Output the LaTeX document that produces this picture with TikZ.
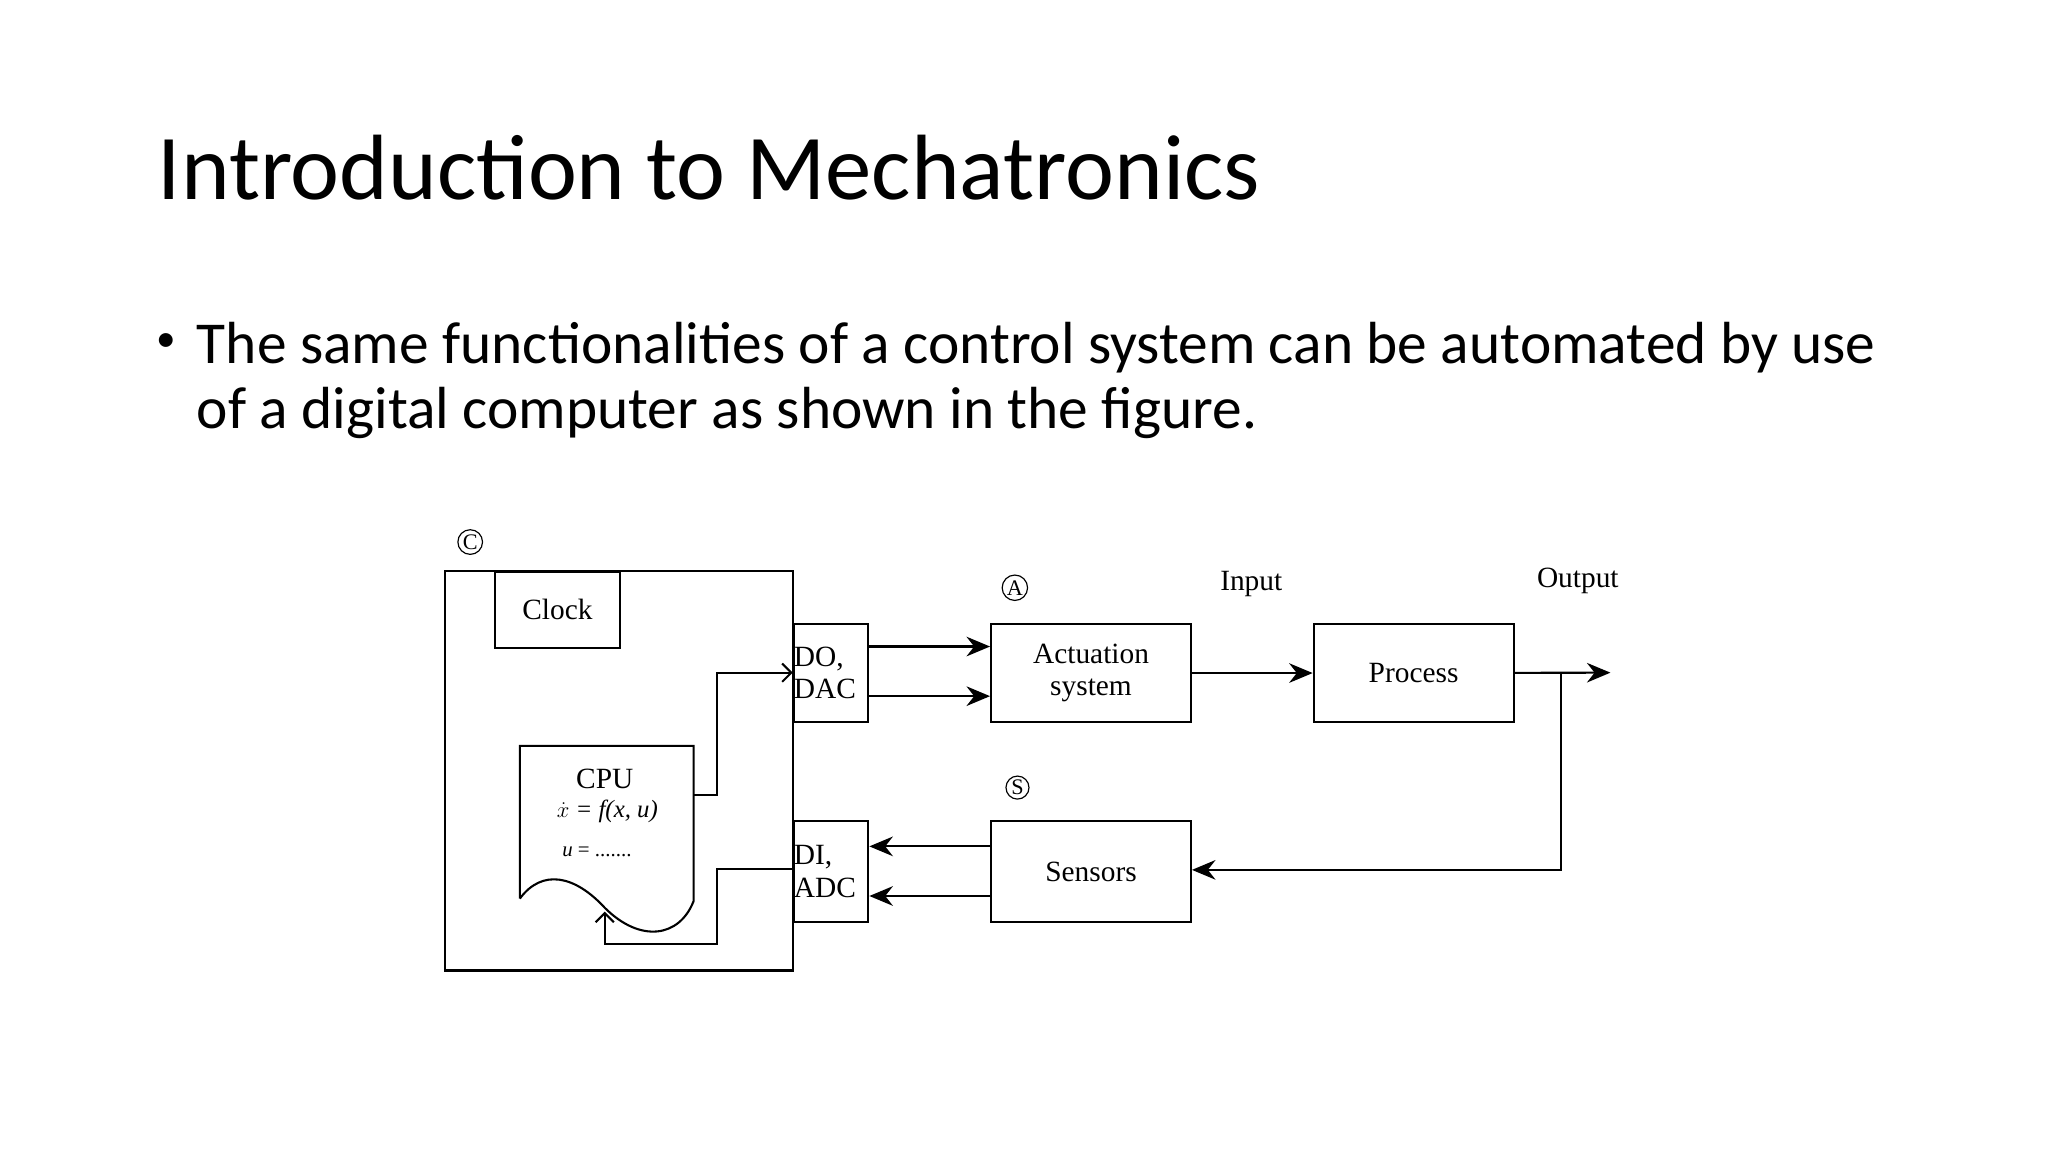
\documentclass[tikz,border=0pt]{standalone}
\usepackage{fontspec}
\setmainfont{Carlito}
\newfontfamily\diag{Liberation Serif}
\usetikzlibrary{arrows.meta}
\begin{document}
\begin{tikzpicture}[x=1pt,y=-1pt,line width=1.6pt,
  blk/.style={draw,line width=1.6pt},
  lbl/.style={font=\diag\fontsize{22.5}{25}\selectfont,align=center,inner sep=0pt},
  circ/.style={circle,draw,line width=0.9pt,inner sep=1pt,font=\diag\fontsize{17}{17}\selectfont},
  fill arrow/.style={-{Stealth[length=18pt,width=15pt]}},
  open arrow/.style={-{Straight Barb[length=7pt,width=14pt]}}]
\useasboundingbox (0,0) rectangle (1568,882);
% slide text
\node[anchor=base west,inner sep=0pt,font=\fontsize{71}{80}\selectfont] (title) at (120,153) {Introduction to Mechatronics};
\node[anchor=center,inner sep=0pt,font=\fontsize{30}{30}\selectfont] (bul) at (127,262) {•};
\node[anchor=base west,inner sep=0pt,align=left,font=\fontsize{45.5}{50}\selectfont] (txt) at (150,328)
  {The same functionalities of a control system can be automated by use\\of a digital computer as shown in the figure.};
% computer
\draw[blk] (341,437) rectangle (607,743);
\node[blk,minimum width=96pt,minimum height=58pt,anchor=north west,lbl] (clock) at (378,437) {Clock};
\draw[blk] (398,688) -- (398,571) -- (531,571) -- (531,690)
  .. controls (520,718) and (490,722) .. (463,695)
  .. controls (440,670) and (415,665) .. (398,688);
\node[lbl] (cpu) at (463,596) {CPU};
\node[lbl,font=\diag\itshape\fontsize{19}{20}\selectfont] (eq1) at (465,621) {$\dot{x}$ = f(x, u)};
\node[lbl,font=\diag\fontsize{16}{16}\selectfont] (eq2) at (457,652) {\textit{u} = .......};
\coordinate (cpuout) at (531,609);
\coordinate (cpuin) at (463,698);
\node[blk,minimum width=57pt,minimum height=75pt,anchor=north west] (do) at (607,477) {};
\node[lbl,anchor=west,align=left] at (do.west) {DO,\\DAC};
\node[blk,minimum width=57pt,minimum height=77pt,anchor=north west] (di) at (607,628) {};
\node[lbl,anchor=west,align=left] at (di.west) {DI,\\ADC};
\node[blk,minimum width=153pt,minimum height=75pt,anchor=north west,lbl] (act) at (758,477) {Actuation\\system};
\node[blk,minimum width=153pt,minimum height=75pt,anchor=north west,lbl] (proc) at (1005,477) {Process};
\node[blk,minimum width=153pt,minimum height=77pt,anchor=north west,lbl] (sen) at (758,628) {Sensors};
\coordinate (out) at (1233,515);
\coordinate (br) at (1195,515);
% labels
\node[circ] (c) at (360,415) {C};
\node[circ] (a) at (777,450) {A};
\node[circ] (s) at (779,603) {S};
\node[lbl] (inp) at (958,447) {Input};
\node[lbl] (outp) at (1208,445) {Output};
% connectors
\draw[open arrow] (cpuout) -- (549,609) -- (549,515) -- (do.west |- 0,515);
\draw[open arrow] (di.west |- 0,665) -- (549,665) -- (549,723) -- (463,723) -- (cpuin);
\draw[fill arrow] (do.east |- 0,495) -- (act.west |- 0,495);
\draw[fill arrow] (do.east |- 0,533) -- (act.west |- 0,533);
\draw[fill arrow] (act) -- (proc);
\draw[fill arrow] (proc) -- (out);
\draw[fill arrow] (br) -- (1195,666) -- (sen.east |- 0,666);
\draw[fill arrow] (sen.west |- 0,648) -- (di.east |- 0,648);
\draw[fill arrow] (sen.west |- 0,686) -- (di.east |- 0,686);
\end{tikzpicture}
\end{document}
